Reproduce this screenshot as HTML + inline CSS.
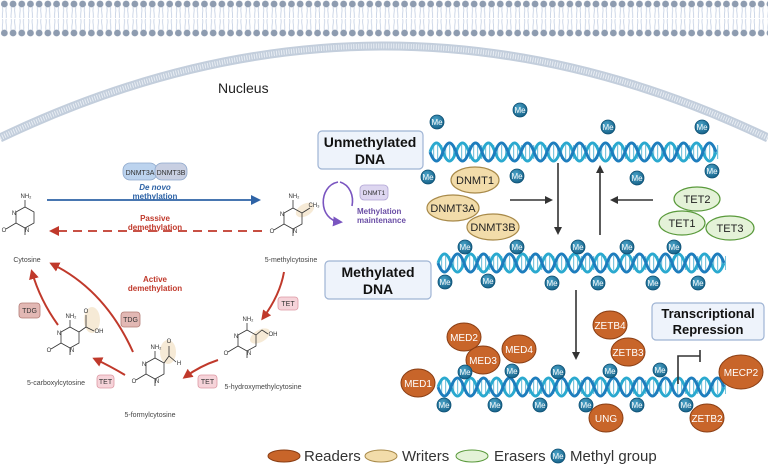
<!DOCTYPE html>
<html><head><meta charset="utf-8"><style>
html,body{margin:0;padding:0;background:#fff}
svg{display:block}
text{font-family:"Liberation Sans",sans-serif}
</style></head><body>
<svg width="768" height="466" viewBox="0 0 768 466" xmlns="http://www.w3.org/2000/svg">
<defs>
<pattern id="mem" width="8.7" height="37" patternUnits="userSpaceOnUse">
<path d="M2.5,7 C3.5,13 1.5,15 2.5,18 M6.2,7 C5.2,13 7.2,15 6.2,18 M2.5,19 C3.5,23 1.5,26 2.5,30 M6.2,19 C5.2,23 7.2,26 6.2,30" stroke="#c2cee2" stroke-width="0.8" fill="none"/>
<circle cx="4.35" cy="4" r="3.4" fill="#8e9cb0"/><circle cx="4.35" cy="33" r="3.4" fill="#8e9cb0"/>
</pattern>
<pattern id="rung" width="4" height="20" patternUnits="userSpaceOnUse"><rect x="1" width="1.2" height="20" fill="#7cc6de"/></pattern>
<radialGradient id="me" cx="0.4" cy="0.35" r="0.7"><stop offset="0" stop-color="#4aa3c8"/><stop offset="1" stop-color="#145f86"/></radialGradient>
<marker id="ab" markerWidth="8" markerHeight="8" refX="6" refY="4" orient="auto" markerUnits="userSpaceOnUse"><path d="M0,0 L8,4 L0,8z" fill="#333"/></marker>
<marker id="abl" markerWidth="10" markerHeight="10" refX="7" refY="5" orient="auto" markerUnits="userSpaceOnUse"><path d="M0,0 L10,5 L0,10z" fill="#2e63a6"/></marker>
<marker id="ar" markerWidth="10" markerHeight="10" refX="7" refY="5" orient="auto" markerUnits="userSpaceOnUse"><path d="M0,0 L10,5 L0,10z" fill="#c0392b"/></marker>
<marker id="ap" markerWidth="10" markerHeight="10" refX="7" refY="5" orient="auto" markerUnits="userSpaceOnUse"><path d="M0,0 L10,5 L0,10z" fill="#7a55c0"/></marker>
</defs>

<!-- membrane -->
<rect x="0" y="0" width="768" height="37" fill="url(#mem)"/>
<!-- nuclear envelope -->
<path d="M0,138 Q384,-46 768,138" stroke="#c3cedc" stroke-width="9" fill="none"/>
<path d="M0,138 Q384,-46 768,138" stroke="#e9eef4" stroke-width="5" fill="none" stroke-dasharray="1 1.5"/>
<text x="218" y="93" font-size="14" fill="#222">Nucleus</text>

<!-- boxes -->
<rect x="318" y="131" width="105" height="38" rx="4" fill="#eef3fb" stroke="#9fb4d4" stroke-width="1.2"/>
<text x="370" y="147" font-size="14" font-weight="bold" text-anchor="middle" fill="#111">Unmethylated</text>
<text x="370" y="164" font-size="14" font-weight="bold" text-anchor="middle" fill="#111">DNA</text>
<rect x="325" y="261" width="106" height="38" rx="4" fill="#eef3fb" stroke="#9fb4d4" stroke-width="1.2"/>
<text x="378" y="277" font-size="14" font-weight="bold" text-anchor="middle" fill="#111">Methylated</text>
<text x="378" y="294" font-size="14" font-weight="bold" text-anchor="middle" fill="#111">DNA</text>
<rect x="652" y="303" width="112" height="37" rx="4" fill="#eef3fb" stroke="#9fb4d4" stroke-width="1.2"/>
<text x="708" y="318" font-size="13" font-weight="bold" text-anchor="middle" fill="#111">Transcriptional</text>
<text x="708" y="334" font-size="13" font-weight="bold" text-anchor="middle" fill="#111">Repression</text>

<!-- helices -->
<g>
<rect x="432" y="145" width="288" height="14" fill="url(#rung)"/>
<path d="M430,152 q6.5,-18 13,0 t13,0 t13,0 t13,0 t13,0 t13,0 t13,0 t13,0 t13,0 t13,0 t13,0 t13,0 t13,0 t13,0 t13,0 t13,0 t13,0 t13,0 t13,0 t13,0 t13,0 t13,0" stroke="#2aa9cf" stroke-width="3" fill="none"/>
<path d="M430,152 q6.5,18 13,0 t13,0 t13,0 t13,0 t13,0 t13,0 t13,0 t13,0 t13,0 t13,0 t13,0 t13,0 t13,0 t13,0 t13,0 t13,0 t13,0 t13,0 t13,0 t13,0 t13,0 t13,0" stroke="#1d7dbd" stroke-width="3" fill="none"/>
</g>
<g>
<rect x="440" y="256" width="286" height="14" fill="url(#rung)"/>
<path d="M438,263 q6.5,-18 13,0 t13,0 t13,0 t13,0 t13,0 t13,0 t13,0 t13,0 t13,0 t13,0 t13,0 t13,0 t13,0 t13,0 t13,0 t13,0 t13,0 t13,0 t13,0 t13,0 t13,0 t13,0" stroke="#2aa9cf" stroke-width="3" fill="none"/>
<path d="M438,263 q6.5,18 13,0 t13,0 t13,0 t13,0 t13,0 t13,0 t13,0 t13,0 t13,0 t13,0 t13,0 t13,0 t13,0 t13,0 t13,0 t13,0 t13,0 t13,0 t13,0 t13,0 t13,0 t13,0" stroke="#1d7dbd" stroke-width="3" fill="none"/>
</g>
<g>
<rect x="440" y="380" width="286" height="14" fill="url(#rung)"/>
<path d="M438,387 q6.5,-18 13,0 t13,0 t13,0 t13,0 t13,0 t13,0 t13,0 t13,0 t13,0 t13,0 t13,0 t13,0 t13,0 t13,0 t13,0 t13,0 t13,0 t13,0 t13,0 t13,0 t13,0 t13,0" stroke="#2aa9cf" stroke-width="3" fill="none"/>
<path d="M438,387 q6.5,18 13,0 t13,0 t13,0 t13,0 t13,0 t13,0 t13,0 t13,0 t13,0 t13,0 t13,0 t13,0 t13,0 t13,0 t13,0 t13,0 t13,0 t13,0 t13,0 t13,0 t13,0 t13,0" stroke="#1d7dbd" stroke-width="3" fill="none"/>
</g>

<!-- arrows middle -->
<g stroke="#333" stroke-width="1.6" fill="none">
<line x1="510" y1="200" x2="551" y2="200" marker-end="url(#ab)"/>
<line x1="558" y1="163" x2="558" y2="233" marker-end="url(#ab)"/>
<line x1="600" y1="235" x2="600" y2="167" marker-end="url(#ab)"/>
<line x1="653" y1="200" x2="612" y2="200" marker-end="url(#ab)"/>
<line x1="576" y1="290" x2="576" y2="358" marker-end="url(#ab)"/>
<path d="M678,384 V356 H700 M700,350 V362" stroke="#333"/>
</g>

<!-- writers -->
<g stroke="#a88a4a" stroke-width="1.2" fill="#f2dcaa">
<ellipse cx="475" cy="180" rx="24" ry="13"/>
<ellipse cx="453" cy="208" rx="26" ry="13"/>
<ellipse cx="493" cy="227" rx="26" ry="13"/>
</g>
<g font-size="11" text-anchor="middle" fill="#222">
<text x="475" y="184">DNMT1</text><text x="453" y="212">DNMT3A</text><text x="493" y="231">DNMT3B</text>
</g>
<!-- erasers -->
<g stroke="#5a9a3c" stroke-width="1.2" fill="#e4f2d8">
<ellipse cx="697" cy="199" rx="23" ry="12"/>
<ellipse cx="682" cy="223" rx="23" ry="12"/>
<ellipse cx="730" cy="228" rx="24" ry="12"/>
</g>
<g font-size="11" text-anchor="middle" fill="#222">
<text x="697" y="203">TET2</text><text x="682" y="227">TET1</text><text x="730" y="232">TET3</text>
</g>

<!-- readers -->
<g stroke="#8a3e14" stroke-width="1" fill="#c8652a">
<ellipse cx="418" cy="383" rx="17" ry="14"/>
<ellipse cx="464" cy="337" rx="17" ry="14"/>
<ellipse cx="483" cy="360" rx="17" ry="14"/>
<ellipse cx="519" cy="349" rx="17" ry="14"/>
<ellipse cx="610" cy="325" rx="17" ry="14"/>
<ellipse cx="628" cy="352" rx="17" ry="14"/>
<ellipse cx="606" cy="418" rx="17" ry="14"/>
<ellipse cx="707" cy="418" rx="17" ry="14"/>
<ellipse cx="741" cy="372" rx="22" ry="17"/>
</g>
<g font-size="10" text-anchor="middle" fill="#fff">
<text x="418" y="387">MED1</text><text x="464" y="341">MED2</text><text x="483" y="364">MED3</text><text x="519" y="353">MED4</text>
<text x="610" y="329">ZETB4</text><text x="628" y="356">ZETB3</text><text x="606" y="422">UNG</text><text x="707" y="422">ZETB2</text><text x="741" y="376">MECP2</text>
</g>

<!-- Me circles -->
<g id="mes">
<g fill="url(#me)" stroke="#0d4f73" stroke-width="0.8">
<circle cx="520" cy="110" r="7"/><circle cx="437" cy="122" r="7"/><circle cx="608" cy="127" r="7"/><circle cx="702" cy="127" r="7"/>
<circle cx="428" cy="177" r="7"/><circle cx="517" cy="176" r="7"/><circle cx="637" cy="178" r="7"/><circle cx="712" cy="171" r="7"/>
<circle cx="465" cy="247" r="7"/><circle cx="517" cy="247" r="7"/><circle cx="578" cy="247" r="7"/><circle cx="627" cy="247" r="7"/><circle cx="674" cy="247" r="7"/>
<circle cx="445" cy="282" r="7"/><circle cx="488" cy="281" r="7"/><circle cx="552" cy="283" r="7"/><circle cx="598" cy="283" r="7"/><circle cx="653" cy="283" r="7"/><circle cx="698" cy="283" r="7"/>
<circle cx="465" cy="372" r="7"/><circle cx="512" cy="371" r="7"/><circle cx="558" cy="372" r="7"/><circle cx="610" cy="371" r="7"/><circle cx="660" cy="370" r="7"/>
<circle cx="444" cy="405" r="7"/><circle cx="495" cy="405" r="7"/><circle cx="540" cy="405" r="7"/><circle cx="586" cy="405" r="7"/><circle cx="637" cy="405" r="7"/><circle cx="686" cy="405" r="7"/>
<circle cx="558" cy="456" r="7"/>
</g>
<g font-size="8" fill="#fff" text-anchor="middle">
<text x="520" y="113">Me</text><text x="437" y="125">Me</text><text x="608" y="130">Me</text><text x="702" y="130">Me</text>
<text x="428" y="180">Me</text><text x="517" y="179">Me</text><text x="637" y="181">Me</text><text x="712" y="174">Me</text>
<text x="465" y="250">Me</text><text x="517" y="250">Me</text><text x="578" y="250">Me</text><text x="627" y="250">Me</text><text x="674" y="250">Me</text>
<text x="445" y="285">Me</text><text x="488" y="284">Me</text><text x="552" y="286">Me</text><text x="598" y="286">Me</text><text x="653" y="286">Me</text><text x="698" y="286">Me</text>
<text x="465" y="375">Me</text><text x="512" y="374">Me</text><text x="558" y="375">Me</text><text x="610" y="374">Me</text><text x="660" y="373">Me</text>
<text x="444" y="408">Me</text><text x="495" y="408">Me</text><text x="540" y="408">Me</text><text x="586" y="408">Me</text><text x="637" y="408">Me</text><text x="686" y="408">Me</text>
<text x="558" y="459">Me</text>
</g>
</g>

<!-- legend -->
<ellipse cx="284" cy="456" rx="16" ry="6" fill="#c8652a" stroke="#8a3e14"/>
<text x="304" y="461" font-size="15" fill="#333">Readers</text>
<ellipse cx="381" cy="456" rx="16" ry="6" fill="#f2dcaa" stroke="#a88a4a"/>
<text x="402" y="461" font-size="15" fill="#333">Writers</text>
<ellipse cx="472" cy="456" rx="16" ry="6" fill="#e4f2d8" stroke="#5a9a3c"/>
<text x="494" y="461" font-size="15" fill="#333">Erasers</text>
<text x="570" y="461" font-size="15" fill="#333">Methyl group</text>

<!-- LEFT PANEL -->
<rect x="123" y="163" width="34" height="17" rx="7" fill="#bcd3ee" stroke="#8fa9cc" stroke-width="0.8"/>
<rect x="155" y="163" width="32" height="17" rx="7" fill="#c8cfe2" stroke="#8fa9cc" stroke-width="0.8"/>
<text x="140" y="175" font-size="7" text-anchor="middle" fill="#333">DNMT3A</text>
<text x="171" y="175" font-size="7" text-anchor="middle" fill="#333">DNMT3B</text>
<text x="155" y="190" font-size="8" font-style="italic" font-weight="bold" text-anchor="middle" fill="#2e63a6">De novo</text>
<text x="155" y="199" font-size="8" font-weight="bold" text-anchor="middle" fill="#2e63a6">methylation</text>
<line x1="47" y1="200" x2="258" y2="200" stroke="#2e63a6" stroke-width="1.8" marker-end="url(#abl)"/>
<text x="155" y="221" font-size="8" font-weight="bold" text-anchor="middle" fill="#c0392b">Passive</text>
<text x="155" y="230" font-size="8" font-weight="bold" text-anchor="middle" fill="#c0392b">demethylation</text>
<line x1="262" y1="231" x2="52" y2="231" stroke="#c0392b" stroke-width="1.8" stroke-dasharray="9 6" marker-end="url(#ar)"/>
<text x="155" y="282" font-size="8" font-weight="bold" text-anchor="middle" fill="#c0392b">Active</text>
<text x="155" y="291" font-size="8" font-weight="bold" text-anchor="middle" fill="#c0392b">demethylation</text>

<!-- DNMT1 maintenance -->
<path d="M338,182 C318,186 318,220 340,222" stroke="#7a55c0" stroke-width="1.6" fill="none" marker-end="url(#ap)"/>
<path d="M340,182 C350,185 354,196 352,206" stroke="#7a55c0" stroke-width="1.6" fill="none"/>
<rect x="360" y="185" width="28" height="15" rx="4" fill="#ddd6f0" stroke="#b0a4d4" stroke-width="0.8"/>
<text x="374" y="195" font-size="6.5" text-anchor="middle" fill="#333">DNMT1</text>
<text x="357" y="214" font-size="8" font-weight="bold" fill="#6b4fa6">Methylation</text>
<text x="357" y="223" font-size="8" font-weight="bold" fill="#6b4fa6">maintenance</text>

<!-- red arrows active -->
<g stroke="#c0392b" stroke-width="2" fill="none">
<path d="M284,272 Q280,295 263,318" marker-end="url(#ar)"/>
<path d="M218,360 Q200,366 185,377" marker-end="url(#ar)"/>
<path d="M125,375 Q110,366 95,359" marker-end="url(#ar)"/>
<path d="M58,325 Q40,300 32,272" marker-end="url(#ar)"/>
<path d="M133,352 Q105,290 52,264" marker-end="url(#ar)"/>
</g>
<g font-size="7" text-anchor="middle" fill="#333">
<rect x="278" y="297" width="20" height="13" rx="3" fill="#f6d3d9" stroke="#dd99a4" stroke-width="0.8"/><text x="288" y="306">TET</text>
<rect x="198" y="375" width="19" height="13" rx="3" fill="#f6d3d9" stroke="#dd99a4" stroke-width="0.8"/><text x="207.5" y="384">TET</text>
<rect x="97" y="375" width="17" height="13" rx="3" fill="#f6d3d9" stroke="#dd99a4" stroke-width="0.8"/><text x="105.5" y="384">TET</text>
<rect x="19" y="303" width="21" height="15" rx="3" fill="#e2b8b4" stroke="#b37c76" stroke-width="0.8"/><text x="29.5" y="313">TDG</text>
<rect x="121" y="312" width="19" height="15" rx="3" fill="#e2b8b4" stroke="#b37c76" stroke-width="0.8"/><text x="130.5" y="322">TDG</text>
</g>

<!-- molecules -->
<g fill="#f6ead6" stroke="none">
<ellipse cx="305" cy="210" rx="10" ry="6" transform="rotate(-30 305 210)"/>
<ellipse cx="260" cy="336" rx="11" ry="6" transform="rotate(-30 260 336)"/>
<ellipse cx="168" cy="352" rx="8" ry="12"/>
<ellipse cx="92" cy="320" rx="8" ry="13"/>
</g>
<g stroke="#333" stroke-width="0.8" fill="none">
<path d="M25,207 L34,212 L34,223 L25,228 L16,223 L16,212z M25,207 V200 M16,223 L6,229 M25,228 V235"/>
<path d="M293,208 L302,213 L302,224 L293,229 L284,224 L284,213z M293,208 V200 M302,213 L310,208 M284,224 L274,230 M293,229 V236"/>
<path d="M247,330 L256,335 L256,346 L247,351 L238,346 L238,335z M247,330 V323 M256,335 L262,330 L268,334 M238,346 L228,352 M247,351 V358"/>
<path d="M155,358 L164,363 L164,374 L155,379 L146,374 L146,363z M155,358 V351 M164,363 L169,356 L176,362 M169,356 V346 M146,374 L136,380 M155,379 V386"/>
<path d="M70,327 L79,332 L79,343 L70,348 L61,343 L61,332z M70,327 V320 M79,332 L86,327 L94,331 M86,327 V315 M61,343 L51,349 M70,348 V355"/>
</g>
<g font-size="6" fill="#333" text-anchor="middle">
<text x="26" y="198">NH₂</text><text x="14" y="215">N</text><text x="4" y="232">O</text><text x="27" y="232">N</text>
<text x="294" y="198">NH₂</text><text x="282" y="216">N</text><text x="272" y="233">O</text><text x="295" y="233">N</text><text x="314" y="207">CH₃</text>
<text x="248" y="321">NH₂</text><text x="236" y="338">N</text><text x="226" y="355">O</text><text x="249" y="355">N</text><text x="273" y="336">OH</text>
<text x="156" y="349">NH₂</text><text x="144" y="366">N</text><text x="134" y="383">O</text><text x="157" y="383">N</text><text x="179" y="365">H</text><text x="169" y="343">O</text>
<text x="71" y="318">NH₂</text><text x="59" y="335">N</text><text x="49" y="352">O</text><text x="72" y="352">N</text><text x="99" y="333">OH</text><text x="86" y="313">O</text>
</g>
<g font-size="7" fill="#444" text-anchor="middle">
<text x="27" y="262">Cytosine</text>
<text x="291" y="262">5-methylcytosine</text>
<text x="263" y="389">5-hydroxymethylcytosine</text>
<text x="150" y="417">5-formylcytosine</text>
<text x="56" y="385">5-carboxylcytosine</text>
</g>
</svg>
</body></html>
